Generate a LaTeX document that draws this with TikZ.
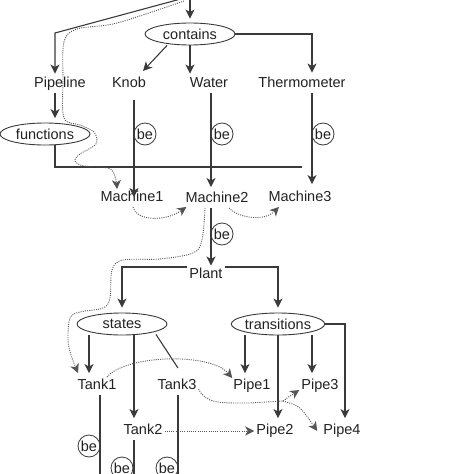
\documentclass[tikz,border=0pt]{standalone}
\usepackage{fontspec}
\setmainfont{Liberation Sans}
\usetikzlibrary{arrows.meta,shapes.geometric,calc}
\definecolor{lncol}{HTML}{3A3A3A}
\definecolor{dtcol}{HTML}{555555}
\definecolor{txcol}{HTML}{222222}
\begin{document}
\begin{tikzpicture}[x=1pt,y=-1pt,
  every node/.style={font=\fontsize{14.5}{16}\selectfont, text=txcol},
  lbl/.style={inner sep=2pt, text height=10.5pt, text depth=3pt},
  oval/.style={ellipse, draw=lncol, line width=0.9pt, minimum width=90pt, minimum height=22pt, inner sep=0pt},
  becirc/.style={circle, draw=lncol, line width=0.8pt, minimum size=22pt, inner sep=0pt},
  solidline/.style={draw=lncol, line width=1.1pt},
  arr/.style={solidline, -{Stealth[length=9pt,width=9pt,inset=2.5pt]}, shorten >=1.5pt},
  dotln/.style={draw=dtcol, line width=0.9pt, dash pattern=on 1pt off 1.2pt},
  dotarr/.style={dotln, -{Stealth[length=9pt,width=9pt,inset=2.5pt]}},
]
\fill[white] (0,0) rectangle (474,474);
\clip (0,0) rectangle (474,474);

% nodes
\node[lbl] (pipe) at (60,84) {Pipeline};
\node[lbl] (knob) at (129,84) {Knob};
\node[lbl] (water) at (209,84) {Water};
\node[lbl] (thermo) at (302,84) {Thermometer};
\node[oval] (contains) at (190,34) {contains};
\node[oval] (functions) at (45,134) {functions};
\node[lbl] (m1) at (132,198) {Machine1};
\node[lbl] (m2) at (217,199) {Machine2};
\node[lbl] (m3) at (300,198) {Machine3};
\node[lbl, anchor=north, inner ysep=0.5pt] (plant) at (206,267) {Plant};
\node[oval] (states) at (122,324) {states};
\node[oval] (trans) at (278,324) {transitions};
\node[lbl] (t1) at (97,386) {Tank1};
\node[lbl] (t3) at (177,386) {Tank3};
\node[lbl] (t2) at (143,431) {Tank2};
\node[lbl] (p1) at (252,386) {Pipe1};
\node[lbl] (p3) at (320,386) {Pipe3};
\node[lbl] (p2) at (275,431) {Pipe2};
\node[lbl] (p4) at (342,431) {Pipe4};

\node[becirc] (be1) at (145,134) {be};
\node[becirc] (be2) at (222,134) {be};
\node[becirc] (be3) at (323,134) {be};
\node[becirc] (be4) at (222,234) {be};
\node[becirc] (be5) at (89,446) {be};
\node[becirc] (be6) at (122,468) {be};
\node[becirc] (be7) at (167,468) {be};

% coordinates
\coordinate (topA) at (188,-3);
\coordinate (kneeA) at (55,33);
\coordinate (topB) at (190,-3);
\coordinate (fk) at (55,167);
\coordinate (fe) at (302,167);
\coordinate (bot) at (0,490);
\coordinate (dtop) at (184,1);
\coordinate (m1in) at ([xshift=-15pt]m1.north);
\coordinate (m2out) at ([xshift=-12pt]m2.south);
\coordinate (t1in) at ([xshift=-19pt,yshift=4pt]t1.north);
\coordinate (br) at (283,401);

% solid connectors
\draw[arr] (topA) -- (kneeA) -- (kneeA |- pipe.north);
\draw[arr, shorten >=4pt] (topB) -- (contains.north);
\draw[arr] ($(contains.south)+(-23,0)$) -- ($(knob.north)+(13,-3)$);
\draw[arr] (contains.south) -- (contains.south |- water.north);
\draw[arr, shorten >=2.5pt] (contains.east) -| ($(thermo.north)+(10,0)$);
\draw[arr, shorten >=4.5pt] ([xshift=-5pt]pipe.south) -- ([xshift=-5pt]pipe.south |- functions.north);
\draw[solidline] (functions.south -| fk) -- (fk) -- (fe);
\draw[arr, shorten >=-1pt] ([xshift=5pt,yshift=-7pt]knob.south) -- ([xshift=5pt,yshift=-7pt]knob.south |- m1.north);
\draw[arr, shorten >=3pt] ([xshift=2pt]water.south) -- ([xshift=2pt]water.south |- m2.north);
\draw[arr, shorten >=5pt] ([xshift=10pt]thermo.south) -- ([xshift=10pt]thermo.south |- m3.north);
\draw[arr] ([xshift=-6pt]m2.south) -- ([xshift=-6pt]m2.south |- plant.north);
\draw[arr, shorten >=5pt] (plant.north west) -| (states.north);
\draw[arr, shorten >=5pt] (plant.north east) -| (trans.north);

\draw[arr, shorten >=4pt] ([xshift=-8pt]t1.north |- states.south) -- ([xshift=-8pt]t1.north);
\draw[arr, shorten >=4pt] ([xshift=-9pt]t2.north |- states.south) -- ([xshift=-9pt]t2.north);
\draw[solidline] ($(states.south)+(34,-1)$) -- ($(t3.north)+(1,-9)$);
\draw[arr, shorten >=4pt] ([xshift=-7pt]p1.north |- trans.south) -- ([xshift=-7pt]p1.north);
\draw[arr, shorten >=4pt] ([xshift=3pt]p2.north |- trans.south) -- ([xshift=3pt]p2.north);
\draw[arr, shorten >=4pt] ([xshift=-8pt]p3.north |- trans.south) -- ([xshift=-8pt]p3.north);
\draw[arr, shorten >=4pt] (trans.east) -| ([xshift=3pt]p4.north);

\draw[solidline] ([xshift=3pt]t1.south) -- ([xshift=3pt]t1.south |- bot);
\draw[solidline] ([xshift=-9pt]t2.south) -- ([xshift=-9pt]t2.south |- bot);
\draw[solidline] ([xshift=1pt]t3.south) -- ([xshift=1pt]t3.south |- bot);

% dotted connectors
\draw[dotarr] plot[smooth, tension=0.55] coordinates {(dtop) (117,23) (77,29) (64,42) (63,80) (64,118) (80,125) (94,132) (96,144) (80,154) (75,161) (84,166) (108,168) (115,176) (m1in)};
\draw[dotarr] ([xshift=1pt]m1.south) .. controls (136,221) and (165,222) .. ([xshift=3pt,yshift=1pt]m2.south west);
\draw[dotarr] ([xshift=12pt]m2.south) .. controls (240,219) and (265,221) .. ([xshift=-21pt]m3.south);
\draw[dotarr] plot[smooth, tension=0.55] coordinates {(m2out) (202,240) (193,253) (160,259) (123,260) (112,270) (110,298) (103,308) (80,312) (70,318) (68,340) (71,355) (t1in)};
\draw[dotarr] ([xshift=10pt]t1.north) .. controls (125,355) and (210,352) .. ([xshift=1pt,yshift=-1pt]p1.north west);
\draw[dotln] ([yshift=-3pt]t3.east) .. controls (206,404) and (220,403) .. (250,403) -- (br);
\draw[dotarr] (br) .. controls (290,396) .. ([yshift=-4pt]p3.west);
\draw[dotarr] (br) .. controls (300,406) .. ([xshift=-4pt]p4.west);
\draw[dotarr] (t2.east) -- (p2.west);
\end{tikzpicture}
\end{document}
